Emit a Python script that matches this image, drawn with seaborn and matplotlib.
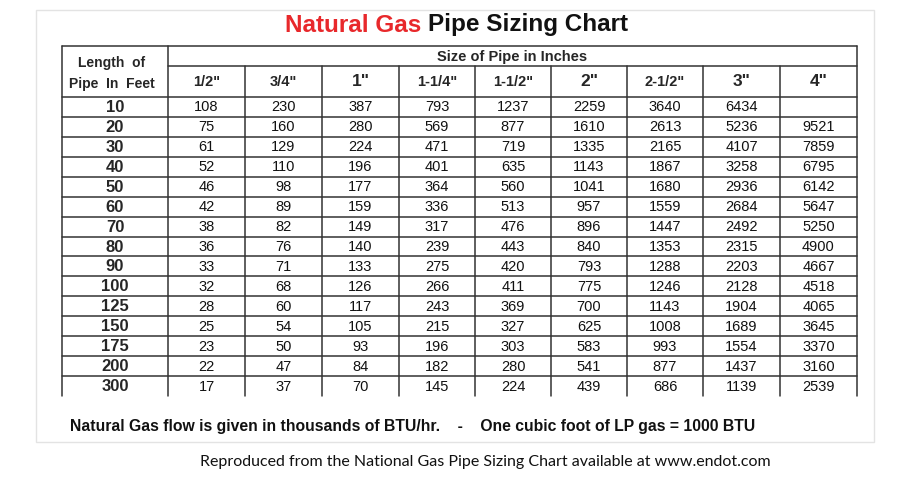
import matplotlib
matplotlib.use("Agg")
import matplotlib.pyplot as plt
import seaborn as sns
import numpy as np

sns.set_theme(style="white")
plt.rcParams['font.family'] = ['Liberation Sans', 'DejaVu Sans']

lengths = ["10", "20", "30", "40", "50", "60", "70", "80", "90", "100", "125", "150", "175", "200", "300"]
sizes = ['1/2"', '3/4"', '1"', '1-1/4"', '1-1/2"', '2"', '2-1/2"', '3"', '4"']
size_big = [False, False, True, False, False, True, False, True, True]
values = [
    [108, 230, 387, 793, 1237, 2259, 3640, 6434, None],
    [75, 160, 280, 569, 877, 1610, 2613, 5236, 9521],
    [61, 129, 224, 471, 719, 1335, 2165, 4107, 7859],
    [52, 110, 196, 401, 635, 1143, 1867, 3258, 6795],
    [46, 98, 177, 364, 560, 1041, 1680, 2936, 6142],
    [42, 89, 159, 336, 513, 957, 1559, 2684, 5647],
    [38, 82, 149, 317, 476, 896, 1447, 2492, 5250],
    [36, 76, 140, 239, 443, 840, 1353, 2315, 4900],
    [33, 71, 133, 275, 420, 793, 1288, 2203, 4667],
    [32, 68, 126, 266, 411, 775, 1246, 2128, 4518],
    [28, 60, 117, 243, 369, 700, 1143, 1904, 4065],
    [25, 54, 105, 215, 327, 625, 1008, 1689, 3645],
    [23, 50, 93, 196, 303, 583, 993, 1554, 3370],
    [22, 47, 84, 182, 280, 541, 877, 1437, 3160],
    [17, 37, 70, 145, 224, 439, 686, 1139, 2539],
]

fig = plt.figure(figsize=(9.1, 4.8), dpi=100)
ax = fig.add_axes([0, 0, 1, 1])
ax.set_xlim(0, 910)
ax.set_ylim(480, 0)
ax.axis("off")

# card
ax.add_patch(plt.Rectangle((36, 10), 838, 432, fill=False, ec="#e3e3e3", lw=1))

# title
ax.text(428, 25, "Natural Gas ", color="#e8282b", fontsize=17.5, fontweight="bold", ha="right", va="center")
ax.text(428, 25, "Pipe Sizing Chart", color="#111111", fontsize=17.5, fontweight="bold", ha="left", va="center")

# grid geometry
xs = [62, 168, 245, 322, 399, 475, 551, 627, 703, 780, 857]
top, sub, hbot, bot = 46, 66, 97, 396
rh = (bot - hbot) / len(lengths)
lc = "#333333"
ax.plot([xs[0], xs[-1]], [top, top], color=lc, lw=1.1)
ax.plot([xs[1], xs[-1]], [sub, sub], color=lc, lw=1.1)
for i in range(len(lengths)):
    y = hbot + i * rh
    ax.plot([xs[0], xs[-1]], [y, y], color=lc, lw=1.1)
for j, x in enumerate(xs):
    y0 = top if j in (0, 1, len(xs) - 1) else sub
    ax.plot([x, x], [y0, bot], color=lc, lw=1.1)

# headers
ax.text(112, 63, "Length  of", fontsize=10, fontweight="bold", ha="center", va="center")
ax.text(112, 84, "Pipe  In  Feet", fontsize=10, fontweight="bold", ha="center", va="center")
ax.text((xs[1] + xs[-1]) / 2, 57, "Size of Pipe in Inches", fontsize=10.5, fontweight="bold", ha="center", va="center")
for j, s in enumerate(sizes):
    cx = (xs[j + 1] + xs[j + 2]) / 2
    ax.text(cx, 82, s, fontsize=12.5 if size_big[j] else 10.5, fontweight="bold", ha="center", va="center")

# body
for i, L in enumerate(lengths):
    cy = hbot + (i + 0.5) * rh
    ax.text((xs[0] + xs[1]) / 2, cy + 0.5, L, fontsize=12, fontweight="bold", ha="center", va="center")
    for j, v in enumerate(values[i]):
        if v is None:
            continue
        cx = (xs[j + 1] + xs[j + 2]) / 2
        ax.text(cx, cy + 0.5, str(v), fontsize=10.5, ha="center", va="center", color="#111111")

ax.text(70, 426, "Natural Gas flow is given in thousands of BTU/hr.    -    One cubic foot of LP gas = 1000 BTU",
        fontsize=11.3, fontweight="bold", ha="left", va="center", color="#111111")
ax.text(485, 462, "Reproduced from the National Gas Pipe Sizing Chart available at www.endot.com",
        fontsize=11.5, ha="center", va="center", color="#111111", family=["Lato", "DejaVu Sans"])

fig.savefig("out.png", dpi=100)
